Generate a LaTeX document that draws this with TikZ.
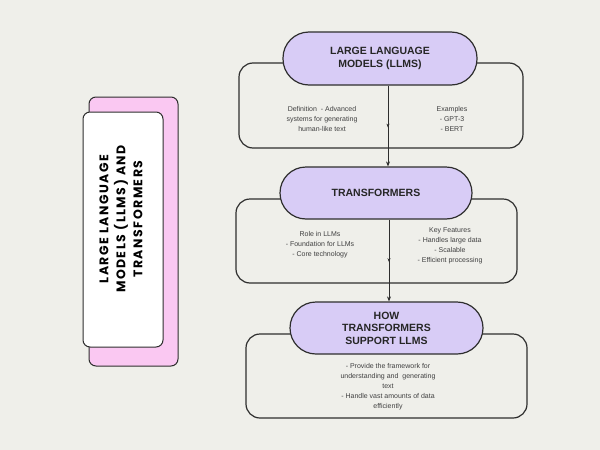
\documentclass[tikz,border=0pt]{standalone}
\usepackage{fontspec}
\setmainfont{Liberation Sans}
\newfontfamily\handfont[LetterSpace=12]{Poppins}
\usepackage{xcolor}
\usetikzlibrary{arrows.meta, positioning, decorations.markings}
\definecolor{paper}{HTML}{EFEFEA}
\definecolor{lavender}{HTML}{D8CCF6}
\definecolor{pinkish}{HTML}{FAC8F2}
\definecolor{ink}{HTML}{2E2E2E}
\tikzset{
  pill/.style={rectangle, draw=ink, fill=lavender, rounded corners=26pt,
               minimum width=194pt, minimum height=53pt, align=center,
               font=\fontsize{10.5}{12.5}\selectfont\bfseries, line width=1.2pt,
               text=black!85},
  panel/.style={rectangle, draw=ink, fill=none, rounded corners=14pt,
                line width=1.2pt},
  info/.style={align=center, font=\fontsize{7}{10}\selectfont, text=black!75,
               inner sep=0pt},
  flow/.style={-{Stealth[length=5pt, width=4pt]}, draw=ink, line width=0.9pt,
               postaction={decorate}, decoration={markings,
               mark=at position 0.52 with {\arrow{Stealth[length=4pt, width=3pt]}}}},
}

\begin{document}
\begin{tikzpicture}[x=1pt, y=-1pt]
  \useasboundingbox[fill=paper] (0,0) rectangle (600,450);

  % Title card
  \fill[pinkish, draw=ink, line width=1pt, rounded corners=7pt] (89,97) rectangle (178,366);
  \node[draw=ink, fill=white, line width=1pt, rounded corners=7pt,
        minimum width=80pt, minimum height=235pt] (card) at (123,229.5) {};
  \node[rotate=90, align=center, font=\handfont\fontsize{12.5}{17}\selectfont\bfseries]
        (title) at (121,219) {LARGE LANGUAGE\\MODELS (LLMS) AND\\TRANSFORMERS};

  % Panels behind the pills
  \node[panel, minimum width=284pt, minimum height=85pt] (llmbox) at (381,105.5) {};
  \node[panel, minimum width=281pt, minimum height=84pt] (tfbox) at (376.5,241) {};
  \node[panel, minimum width=281pt, minimum height=84pt] (howbox) at (386.5,376) {};

  % Pills
  \node[pill] (llm) at (380,58.5) {LARGE LANGUAGE\\MODELS (LLMS)};
  \node[pill, minimum width=192pt, minimum height=52pt] (tf) at (376,193) {TRANSFORMERS};
  \node[pill, minimum width=193pt, minimum height=52pt] (how) at (386.5,328)
        {HOW\\TRANSFORMERS\\SUPPORT LLMS};

  % Panel texts
  \node[info] (defn) at (322,119) {Definition~ - Advanced\\systems for generating\\human-like text};
  \node[info] (examples) at (452,119) {Examples\\- GPT-3\\- BERT};
  \node[info] (role) at (320,245) {Role in LLMs\\- Foundation for LLMs\\- Core technology};
  \node[info] (features) at (450,246) {Key Features\\- Handles large data\\- Scalable\\- Efficient processing};
  \node[info] (support) at (388,387) {- Provide the framework for\\understanding and~ generating\\text\\- Handle vast amounts of data\\efficiently};

  % Edges
  \draw[flow] (llm.south -| 388,0) -- (tf.north -| 388,0);
  \draw[flow] (tf.south -| 389,0) -- (how.north -| 389,0);
\end{tikzpicture}
\end{document}
